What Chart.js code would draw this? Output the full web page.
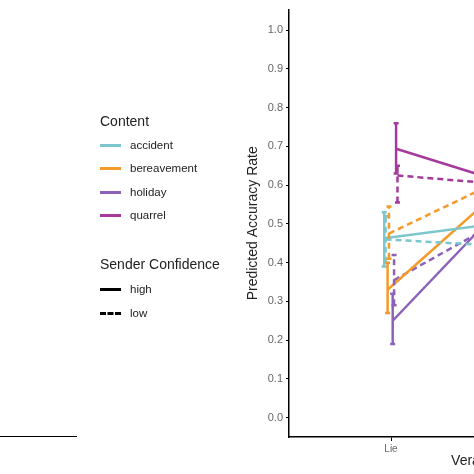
<!DOCTYPE html>
<html>
<head>
<meta charset="utf-8">
<script src="https://cdn.jsdelivr.net/npm/chart.js@4"></script>
<style>
  body { margin: 0; width: 474px; height: 474px; overflow: hidden; background: #fff; font-family: "Liberation Sans", Arial, sans-serif; position: relative; }
  #wrap { position: absolute; left: 0; top: 0; width: 700px; height: 474px; }
  .leg { position: absolute; color: #222; }
  .ttl { font-size: 14px; }
  .item { font-size: 11.5px; display: flex; align-items: center; }
  .sw { width: 21px; height: 0; border-top: 3px solid; margin-right: 9px; }
  #otherAxis { position: absolute; left: 0; top: 436px; width: 77px; border-top: 1.5px solid #000; }
</style>
</head>
<body>
<div id="wrap"><canvas id="grafico" width="700" height="474"></canvas></div>
<div id="otherAxis"></div>
<div class="leg ttl" style="left:100px;top:113px">Content</div>
<div class="leg item" style="left:100px;top:139px"><span class="sw" style="border-color:#7cc6cc"></span>accident</div>
<div class="leg item" style="left:100px;top:162px"><span class="sw" style="border-color:#f39a2b"></span>bereavement</div>
<div class="leg item" style="left:100px;top:186px"><span class="sw" style="border-color:#8c62b8"></span>holiday</div>
<div class="leg item" style="left:100px;top:209px"><span class="sw" style="border-color:#a5399c"></span>quarrel</div>
<div class="leg ttl" style="left:100px;top:256px">Sender Confidence</div>
<div class="leg item" style="left:100px;top:283px"><span class="sw" style="border-color:#000"></span>high</div>
<div class="leg item" style="left:100px;top:307px"><span class="sw" style="border-top:3px dashed #000"></span>low</div>
<script>
// dados
const categorias = ['Lie', 'Truth'];
const conteudos = ['accident', 'bereavement', 'holiday', 'quarrel'];
const cores = ['#7cc6cc', '#f39a2b', '#8c62b8', '#a5399c'];
const deslocamento = [-0.04, -0.02, 0.01, 0.03];

// confianca alta (linha cheia)
const altaLie = [0.463, 0.33, 0.25, 0.694];
const altaTruth = [0.52, 0.72, 0.71, 0.557];
const altaMin = [0.39, 0.27, 0.19, 0.63];
const altaMax = [0.53, 0.40, 0.32, 0.76];

// confianca baixa (tracejada)
const baixaLie = [0.46, 0.475, 0.355, 0.625];
const baixaTruth = [0.435, 0.685, 0.60, 0.588];
const baixaMin = [0.40, 0.41, 0.29, 0.555];
const baixaMax = [0.52, 0.545, 0.42, 0.65];

const yTicks = [0, 0.1, 0.2, 0.3, 0.4, 0.5, 0.6, 0.7, 0.8, 0.9, 1.0];

var datasets = [];
conteudos.forEach(function (c, i) {
    datasets.push({
        label: c + ' high', borderColor: cores[i], borderWidth: 2.5, pointRadius: 0,
        data: [{ x: 1 + deslocamento[i], y: altaLie[i] }, { x: 2 + deslocamento[i], y: altaTruth[i] }],
        erro: { lo: altaMin[i], hi: altaMax[i] }
    });
    datasets.push({
        label: c + ' low', borderColor: cores[i], borderWidth: 2.5, pointRadius: 0, borderDash: [6, 4],
        data: [{ x: 1 + deslocamento[i] + 0.008, y: baixaLie[i] }, { x: 2 + deslocamento[i] + 0.008, y: baixaTruth[i] }],
        erro: { lo: baixaMin[i], hi: baixaMax[i] }
    });
});

// barras de erro no ponto "Lie"
const barrasErro = {
    id: 'barrasErro',
    afterDatasetsDraw(chart) {
        const ctx = chart.ctx, xs = chart.scales.x, ys = chart.scales.y;
        chart.data.datasets.forEach(function (ds) {
            const px = xs.getPixelForValue(ds.data[0].x);
            const y1 = ys.getPixelForValue(ds.erro.lo), y2 = ys.getPixelForValue(ds.erro.hi);
            ctx.save();
            ctx.strokeStyle = ds.borderColor;
            ctx.lineWidth = 2.5;
            ctx.setLineDash(ds.borderDash || []);
            ctx.beginPath(); ctx.moveTo(px, y1); ctx.lineTo(px, y2); ctx.stroke();
            ctx.setLineDash([]);
            ctx.beginPath();
            ctx.moveTo(px - 2.5, y1); ctx.lineTo(px + 2.5, y1);
            ctx.moveTo(px - 2.5, y2); ctx.lineTo(px + 2.5, y2);
            ctx.stroke();
            ctx.restore();
        });
    }
};

var ctx = document.getElementById('grafico').getContext('2d');
new Chart(ctx, {
    type: 'line',
    data: { datasets: datasets },
    plugins: [barrasErro],
    options: {
        responsive: false,
        animation: false,
        layout: { padding: { left: 245, right: 37, top: -10, bottom: 0 } },
        plugins: { legend: { display: false }, tooltip: { enabled: false } },
        scales: {
            x: {
                type: 'linear', min: 0.4, max: 2.6,
                afterBuildTicks: function (s) { s.ticks = [{ value: 1 }, { value: 2 }]; },
                afterFit: function (s) { s.height = 37; },
                ticks: { callback: function (v) { return categorias[v - 1]; }, color: '#666', font: { size: 10 }, padding: 2 },
                grid: { drawOnChartArea: false, color: '#000', tickLength: 4 },
                border: { color: '#000', width: 1.5 },
                title: { display: true, text: 'Veracity', color: '#222', font: { size: 14 }, padding: { top: 0 } }
            },
            y: {
                min: -0.05, max: 1.053,
                afterBuildTicks: function (s) { s.ticks = yTicks.map(function (v) { return { value: v }; }); },
                afterFit: function (s) { s.width = 44; },
                ticks: { callback: function (v) { return v.toFixed(1); }, color: '#666', font: { size: 11 }, padding: 3 },
                grid: { drawOnChartArea: false, color: '#000', tickLength: 3 },
                border: { color: '#000', width: 1.5 },
                title: { display: true, text: 'Predicted Accuracy Rate', color: '#222', font: { size: 14 }, padding: 0 }
            }
        }
    }
});
</script>
</body>
</html>
